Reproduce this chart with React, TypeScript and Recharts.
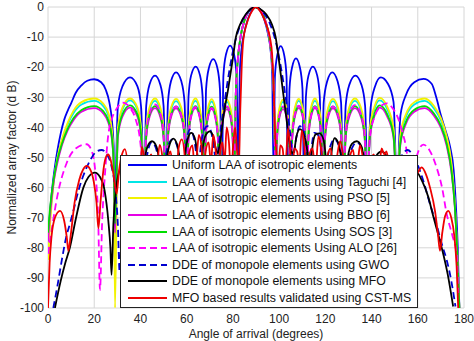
import { LineChart, Line, XAxis, YAxis, CartesianGrid, Legend } from "recharts";

const font = '"Liberation Sans", Arial, sans-serif';

const xTicks = [0, 20, 40, 60, 80, 100, 120, 140, 160, 180];
const yTicks = [0, -10, -20, -30, -40, -50, -60, -70, -80, -90, -100];

// [angle (deg), normalized AF (dB)]
const uniformLaa: [number, number][] = [
  [0, -77], [1, -67], [2, -59], [3, -53], [4, -48], [5.5, -42], [7, -37.5], [8.5, -34.5], [10, -32],
  [12, -28.5], [14.5, -26], [17, -24.5], [20, -24], [23, -25], [25, -27.5], [26.5, -31.5], [27.7, -38],
  [28.4, -46], [29, -62],
  [30.2, -33.4], [32.2, -26.4], [35.5, -23.4], [38.7, -26.4], [40.3, -33.4], [41.5, -60],
  [42.5, -32.8], [43.9, -25.8], [46.3, -22.8], [48.6, -25.8], [50, -32.8], [51, -60],
  [51.9, -31.7], [53.2, -24.7], [55.4, -21.7], [57.7, -24.7], [59.1, -31.7], [60, -60],
  [60.8, -29.8], [61.9, -22.8], [63.9, -19.8], [65.8, -22.8], [66.9, -29.8], [67.7, -60],
  [68.4, -27.3], [69.6, -20.3], [71.5, -17.3], [73.3, -20.3], [74.4, -27.3], [75.2, -60],
  [75.9, -22.8], [77, -15.8], [78.8, -12.8], [80.5, -15.8], [81.6, -22.8], [82.3, -55],
  [83, -22], [83.6, -15], [84.8, -9], [86.5, -4], [88.2, -1.2], [90, 0], [91.8, -1.2], [93.5, -4],
  [95.2, -9], [96.4, -15], [97, -22], [97.6, -55],
  [98.2, -23], [99.2, -16], [100.7, -13], [102.2, -16], [103.2, -23], [103.8, -60],
  [104.5, -27.1], [105.6, -20.1], [107.3, -17.1], [109, -20.1], [110.1, -27.1], [110.8, -60],
  [111.6, -29.8], [112.7, -22.8], [114.6, -19.8], [116.5, -22.8], [117.6, -29.8], [118.4, -60],
  [119.3, -31.7], [120.8, -24.7], [123, -21.7], [125.3, -24.7], [126.8, -31.7], [127.8, -60],
  [128.8, -32.8], [130.4, -25.8], [133, -22.8], [135.6, -25.8], [137.2, -32.8], [138.3, -60],
  [139.6, -33.4], [141.5, -26.4], [144, -23.4], [147, -25.4], [149.5, -31.5], [151, -60],
  [152.5, -36], [155, -29], [158.5, -25], [162.5, -23.9], [166, -25.5], [168, -30], [170, -36],
  [172, -41], [174, -46.5], [175.5, -54], [176.5, -66], [177.3, -80], [178, -100],
];

// shared angle grid of the four optimised isotropic LAA patterns
const groupDeg = [
  0, 1, 2.5, 4, 6, 8.5, 11, 14.5, 20, 24, 26, 27.5, 28.4, 29,
  30.2, 32.2, 35.5, 38.7, 40.3, 41.5,
  42.5, 43.9, 46.3, 48.6, 50, 51,
  51.9, 53.2, 55.4, 57.7, 59.1, 60,
  60.8, 61.9, 63.8, 65.6, 66.7, 67.5,
  68.2, 69.2, 70.8, 72.4, 73.5, 74.2,
  74.8, 75.8, 77.4, 79, 79.9, 80.5,
  81.3, 82.2, 83.3, 85, 87, 89.5, 92, 94, 95.7, 96.8, 97.7, 98.5,
  99.1, 100.1, 101.7, 103.3, 104.3, 105,
  105.7, 106.8, 108.5, 110.2, 111.3, 112,
  112.7, 113.8, 115.5, 117.2, 118.3, 119,
  119.9, 121.2, 123.3, 125.5, 126.9, 127.8,
  128.8, 130.3, 132.8, 135.4, 137, 138,
  139.3, 141.2, 143.5, 146.8, 149.5, 151,
  152.5, 155, 158.5, 163, 167, 170, 172.5, 174.5, 176, 177, 178,
];

const taguchiDb = [
  -80, -69, -57.5, -50.5, -44.5, -39, -35.3, -32.4, -31.2, -33, -35.8, -41, -51, -80,
  -41, -34, -31, -34, -41, -60,
  -41.2, -34.2, -31.2, -34.2, -41.2, -60,
  -41.3, -34.3, -31.3, -34.3, -41.3, -60,
  -41.2, -34.2, -31.2, -34.2, -41.2, -60,
  -41.4, -34.4, -31.4, -34.4, -41.4, -60,
  -41.5, -34.5, -31.5, -34.5, -41.5, -60,
  -28, -17, -10, -4.5, -1.2, 0, -1.2, -4.5, -10, -17, -28, -55,
  -41.5, -34.5, -31.5, -34.5, -41.5, -60,
  -41.2, -34.2, -31.2, -34.2, -41.2, -60,
  -41.2, -34.2, -31.2, -34.2, -41.2, -60,
  -41.3, -34.3, -31.3, -34.3, -41.3, -60,
  -41.2, -34.2, -31.2, -34.2, -41.2, -60,
  -41, -34, -31, -34, -41, -60,
  -43.2, -36.2, -32.4, -31.2, -33.7, -37.7, -43.7, -52.2, -65, -80, -100,
];

const psoDb = [
  -84, -71, -58, -50.5, -44, -38.5, -34.5, -31.6, -30.4, -32.2, -35, -40, -50, -100,
  -40.4, -33.4, -30.4, -33.4, -40.4, -60,
  -40.4, -33.4, -30.4, -33.4, -40.4, -60,
  -40.5, -33.5, -30.5, -33.5, -40.5, -60,
  -40.4, -33.4, -30.4, -33.4, -40.4, -60,
  -40.6, -33.6, -30.6, -33.6, -40.6, -60,
  -40.8, -33.8, -30.8, -33.8, -40.8, -60,
  -28, -17, -10, -4.5, -1.2, 0, -1.2, -4.5, -10, -17, -28, -55,
  -40.8, -33.8, -30.8, -33.8, -40.8, -60,
  -40.5, -33.5, -30.5, -33.5, -40.5, -60,
  -40.4, -33.4, -30.4, -33.4, -40.4, -60,
  -40.5, -33.5, -30.5, -33.5, -40.5, -60,
  -40.4, -33.4, -30.4, -33.4, -40.4, -60,
  -40.2, -33.2, -30.2, -33.2, -40.2, -60,
  -42.4, -35.4, -31.6, -30.4, -32.9, -36.9, -42.9, -51.4, -65, -80, -100,
];

const bboDb = [
  -78, -68, -58, -52, -46, -41, -37.6, -34.8, -33.6, -35.4, -38.2, -43, -52, -75,
  -43.4, -36.4, -33.4, -36.4, -43.4, -60,
  -43.6, -36.6, -33.6, -36.6, -43.6, -60,
  -43.7, -36.7, -33.7, -36.7, -43.7, -60,
  -43.6, -36.6, -33.6, -36.6, -43.6, -60,
  -43.8, -36.8, -33.8, -36.8, -43.8, -60,
  -43.9, -36.9, -33.9, -36.9, -43.9, -60,
  -28, -17, -10, -4.5, -1.2, 0, -1.2, -4.5, -10, -17, -28, -55,
  -43.9, -36.9, -33.9, -36.9, -43.9, -60,
  -43.6, -36.6, -33.6, -36.6, -43.6, -60,
  -43.6, -36.6, -33.6, -36.6, -43.6, -60,
  -43.7, -36.7, -33.7, -36.7, -43.7, -60,
  -43.6, -36.6, -33.6, -36.6, -43.6, -60,
  -43.4, -36.4, -33.4, -36.4, -43.4, -60,
  -45.6, -38.6, -34.8, -33.6, -36.1, -40.1, -46.1, -54.6, -66, -80, -100,
];

const sosDb = [
  -75, -66, -57, -51, -45.5, -40.5, -37, -34.2, -32.9, -34.7, -37.5, -42.5, -51.5, -72,
  -42.7, -35.7, -32.7, -35.7, -42.7, -60,
  -42.9, -35.9, -32.9, -35.9, -42.9, -60,
  -43, -36, -33, -36, -43, -60,
  -42.9, -35.9, -32.9, -35.9, -42.9, -60,
  -43.1, -36.1, -33.1, -36.1, -43.1, -60,
  -43.2, -36.2, -33.2, -36.2, -43.2, -60,
  -28, -17, -10, -4.5, -1.2, 0, -1.2, -4.5, -10, -17, -28, -55,
  -43.2, -36.2, -33.2, -36.2, -43.2, -60,
  -42.9, -35.9, -32.9, -35.9, -42.9, -60,
  -42.9, -35.9, -32.9, -35.9, -42.9, -60,
  -43, -36, -33, -36, -43, -60,
  -42.9, -35.9, -32.9, -35.9, -42.9, -60,
  -42.7, -35.7, -32.7, -35.7, -42.7, -60,
  -44.9, -37.9, -34.1, -32.9, -35.4, -39.4, -45.4, -53.9, -66, -80, -100,
];

const aloLaa: [number, number][] = [
  [0, -82], [1.6, -74], [4, -63], [8, -52], [12, -47], [16.7, -45.6], [19, -48], [20.5, -55],
  [21.7, -70], [22.5, -94], [23.4, -72], [24.7, -55], [26, -43], [27.5, -37.5], [29.5, -34],
  [32.5, -31.8], [35.5, -33.5], [38, -37.5], [39.8, -44], [40.8, -52], [41.5, -60],
  [42.5, -42.4], [43.9, -35.4], [46.3, -32.4], [48.6, -35.4], [50, -42.4], [51, -60],
  [51.9, -43], [53.2, -36], [55.4, -33], [57.7, -36], [59.1, -43], [60, -60],
  [60.8, -43.2], [61.9, -36.2], [63.8, -33.2], [65.6, -36.2], [66.7, -43.2], [67.5, -60],
  [68.2, -43.5], [69.2, -36.5], [70.8, -33.5], [72.4, -36.5], [73.5, -43.5], [74.2, -60],
  [74.8, -43], [75.8, -36], [77.4, -33], [79, -36], [79.9, -43], [80.5, -60],
  [81.3, -28], [82.2, -17], [83.3, -10], [85, -4.5], [87, -1.2], [89.5, 0], [92, -1.2], [94, -4.5],
  [95.7, -10], [96.8, -17], [97.7, -28], [98.5, -55],
  [99.1, -43], [100.1, -36], [101.7, -33], [103.3, -36], [104.3, -43], [105, -60],
  [105.7, -42.8], [106.8, -35.8], [108.5, -32.8], [110.2, -35.8], [111.3, -42.8], [112, -60],
  [112.7, -43.2], [113.8, -36.2], [115.5, -33.2], [117.2, -36.2], [118.3, -43.2], [119, -60],
  [119.9, -43], [121.2, -36], [123.3, -33], [125.5, -36], [126.9, -43], [127.8, -60],
  [128.8, -42.6], [130.3, -35.6], [132.8, -32.6], [135.4, -35.6], [137, -42.6], [138, -60],
  [139.3, -43], [141.5, -36], [144, -33], [146.5, -32], [149, -33.5], [151.5, -37], [153.5, -42],
  [155.2, -48], [156.5, -58], [157.5, -70],
  [158.5, -56], [160, -48.5], [162.4, -45.7], [165, -47.5], [168, -53], [170.5, -60],
  [172.5, -68.7], [175, -76], [176.8, -82], [177.5, -95],
];

const gwoDde: [number, number][] = [
  [2.3, -100], [4, -93], [6, -84], [8, -76], [9.5, -72], [11, -67.7], [13, -61.5], [15.3, -56],
  [18.2, -51], [21, -48], [23.2, -47.5], [25.5, -49], [27.5, -53], [29, -60], [30.2, -72], [31, -88],
  [32, -70], [33.5, -58], [35.5, -52], [37.5, -50], [39.5, -52.5], [41, -60], [42.3, -52],
  [43.5, -47], [44.9, -45], [46.5, -46.5], [48, -52], [49.3, -62], [50.5, -52], [52, -46], [54, -44],
  [55.8, -46], [57.2, -52], [58.3, -60], [59.3, -49], [60.3, -43], [61.4, -40.7], [62.8, -42.5],
  [64, -48], [65, -56], [66, -47], [67.3, -41.5], [69, -39.6], [70.6, -41.5], [71.8, -47],
  [72.8, -52], [73.8, -47], [74.5, -42], [76.5, -31], [78.5, -21], [80.8, -12], [83.5, -5.5],
  [86.5, -1.7], [89.7, 0], [93, -1.7], [96, -5.5], [98.7, -12], [101, -21], [103, -31],
  [104.8, -42], [106, -50], [107.3, -44], [109, -39.6], [110.7, -41.5], [112, -47], [113, -56],
  [114, -47], [115.3, -41.8], [116.8, -42.5], [118.3, -48], [119.6, -60], [121, -50],
  [122.5, -45.5], [124, -44], [125.8, -46], [127.4, -52], [128.6, -62], [130, -52], [131.8, -46.5],
  [133.6, -45], [135.5, -46.5], [137.2, -52], [138.5, -62], [140, -55], [142, -51], [144, -50],
  [146, -53], [147.8, -62], [149, -75], [150.2, -62], [152, -52], [153.8, -48.5], [155.6, -47.5],
  [157.7, -49], [160, -52.5], [162.5, -58], [165.3, -65.5], [168, -72], [170.5, -79],
  [172.5, -84], [174.5, -91], [176.3, -99.5],
];

const mfoDde: [number, number][] = [
  [3, -100], [5.5, -91], [7.5, -85], [9.5, -79.8], [12, -70.5], [15.3, -60], [17.5, -56.5],
  [20.3, -55], [22.5, -56.5], [24.5, -61], [26.1, -71], [27, -80], [27.5, -89], [28.3, -72],
  [29.5, -60], [31.5, -53], [34, -49.5], [36.5, -50], [38.5, -54], [40, -62], [41.5, -52],
  [43, -46.5], [45, -44.6], [47, -46.5], [48.7, -54], [50, -62], [51.3, -51], [52.7, -45.5],
  [54.2, -43.7], [55.8, -45.5], [57.2, -52], [58.2, -60], [59.3, -49], [60.6, -43.5], [62, -41.8],
  [63.5, -43.5], [64.8, -50], [65.8, -58], [66.8, -48], [68.3, -42.5], [70, -41.3], [71.5, -43],
  [72.6, -47], [73.5, -48.5], [74.5, -45], [76, -36], [78, -27], [80, -17], [81.3, -10], [83, -6],
  [85.5, -2.5], [87.5, -0.8], [89.8, 0], [92, -0.8], [94.5, -2.5], [97, -6], [98.5, -10],
  [99.8, -17], [101.5, -27], [103, -36], [104.5, -45], [105.5, -48.5], [106.4, -48], [107.5, -43],
  [109, -40.6], [110.7, -42.5], [112.2, -48], [113.2, -58], [114.2, -48], [115.8, -42.3],
  [117.5, -42], [119.2, -44], [120.5, -52], [121.5, -60], [122.6, -49], [124, -43.6], [125.5, -45],
  [127, -51], [128.2, -60], [129.7, -50], [131.5, -45.5], [133.6, -44.6], [135.7, -46.5],
  [137.3, -54], [138.5, -62], [140, -54], [142, -49.5], [144.4, -48], [146.8, -50], [148.7, -56],
  [150, -65], [151.5, -60], [154, -56.5], [156.5, -55], [159.5, -55], [162, -58], [164.5, -63],
  [166.7, -69.5], [169, -76], [171, -82], [173, -89], [175.3, -99.5],
];

const cstMs: [number, number][] = [
  [0, -100], [0.7, -85], [1.5, -76.5], [3, -70], [5.2, -67.7], [7, -71], [8.2, -77], [8.8, -81],
  [9.8, -76], [11.5, -65], [13.5, -57.5], [15.2, -54], [16.7, -52.8], [18.3, -54], [19.8, -58],
  [21, -65], [21.8, -73.6], [22.7, -65], [24, -54], [25, -50], [26, -49], [27, -50.5], [28.2, -55],
  [29.7, -62], [30.8, -54], [32, -49], [33.3, -47.2], [34.5, -52], [35.5, -60], [36.7, -52],
  [37.8, -49.5], [39, -55], [39.8, -58], [40.6, -46.5], [41.5, -50], [42.5, -62], [43.5, -52],
  [44.7, -49], [46, -57], [47, -55], [48.3, -45.8], [49.5, -50], [50.5, -62], [51.8, -51], [53, -48],
  [54.3, -56], [55.3, -58], [56.5, -47], [57.9, -44], [59.2, -50], [60, -60], [61.2, -48],
  [62.5, -46], [63.5, -54], [64.3, -50], [65.3, -42.5], [66.5, -47], [67.3, -58], [68.2, -48],
  [69.5, -45], [70.5, -52], [71.5, -42.5], [72.6, -48], [73.5, -58], [74.5, -48], [75.5, -45],
  [76.4, -52], [77.3, -40], [78.3, -45], [79.2, -56], [80.2, -45], [81, -40], [81.8, -48],
  [82.5, -55], [83.2, -34], [83.8, -20], [84.5, -11], [85.8, -6], [87.8, -2], [90, 0], [92.3, -2],
  [94.5, -6], [96, -10], [97, -16], [97.7, -28], [98.2, -41], [98.8, -48], [99.6, -56],
  [100.5, -46], [101.5, -47], [102.5, -55], [103.2, -48], [103.8, -40.5], [104.7, -46],
  [105.6, -58], [106.6, -47], [107.8, -48], [108.7, -53], [109.8, -41], [110.9, -46], [112, -58],
  [113.1, -49], [114.5, -47], [115.7, -55], [117, -43], [118.3, -48], [119.5, -60], [120.8, -50],
  [122.3, -47], [123.7, -56], [125, -50], [126.4, -44.6], [127.8, -50], [129.2, -60], [130.5, -50],
  [132, -47.5], [133.2, -55], [134, -52], [135, -46], [136.4, -51], [138, -62], [139.5, -52],
  [141, -49], [142.5, -56], [143.5, -52], [144.4, -47], [145.5, -49], [146.5, -48], [148, -56],
  [150, -62], [151.5, -55], [153.5, -50], [155, -52], [156.5, -60], [158, -58], [160, -55],
  [161.7, -53.3], [163.5, -55.5], [165.3, -60], [167.5, -68], [168.8, -76], [169.6, -81],
  [170.6, -75], [171.8, -69.5], [173.2, -67.7], [174.5, -70], [175.8, -76], [176.8, -86],
  [177.5, -100],
];

const fromPairs = (list: [number, number][]) => list.map(([deg, db]) => ({ deg, db }));
const fromGroup = (values: number[]) => groupDeg.map((deg, i) => ({ deg, db: values[i] }));

const series = [
  { name: "Uniform LAA of isotropic elements", color: "#0000f0", data: fromPairs(uniformLaa) },
  { name: "LAA of isotropic elements using Taguchi [4]", color: "#00e6e6", data: fromGroup(taguchiDb) },
  { name: "LAA of isotropic elements using PSO [5]", color: "#f2f200", data: fromGroup(psoDb) },
  { name: "LAA of isotropic elements using BBO [6]", color: "#e600e6", data: fromGroup(bboDb) },
  { name: "LAA of isotropic elements Using SOS [3]", color: "#00dd00", data: fromGroup(sosDb) },
  { name: "LAA of isotropic elements Using ALO [26]", color: "#ff00ff", dash: "7 4", data: fromPairs(aloLaa) },
  { name: "DDE of monopole elements using GWO", color: "#0000d0", dash: "7 4", data: fromPairs(gwoDde) },
  { name: "DDE of monopole elements using MFO", color: "#000000", data: fromPairs(mfoDde) },
  { name: "MFO based results validated using CST-MS", color: "#ee0000", data: fromPairs(cstMs) },
];

const renderLegend = () => (
  <div
    style={{
      boxSizing: "border-box",
      width: 298,
      background: "#fff",
      border: "1px solid #222",
      padding: "1px 0",
      fontFamily: font,
      fontSize: 12.3,
      color: "#111",
    }}
  >
    {series.map((s) => (
      <div key={s.name} style={{ height: 16.6, display: "flex", alignItems: "center" }}>
        <svg width={47} height={10} style={{ flex: "none" }}>
          <line x1={7} x2={46} y1={5} y2={5} stroke={s.color} strokeWidth={2} strokeDasharray={s.dash} />
        </svg>
        <span style={{ marginLeft: 4, whiteSpace: "nowrap" }}>{s.name}</span>
      </div>
    ))}
  </div>
);

export default function App() {
  return (
    <div style={{ position: "absolute", left: 0, top: 0, width: 474, height: 341, background: "#fff" }}>
      <LineChart width={474} height={341} margin={{ top: 7, right: 10, bottom: 0, left: 0 }} style={{ fontFamily: font }}>
        <CartesianGrid stroke="#d6d6d6" strokeWidth={1} />
        <XAxis
          dataKey="deg"
          type="number"
          domain={[0, 180]}
          ticks={xTicks}
          interval={0}
          allowDataOverflow
          height={33}
          axisLine={false}
          tickLine={false}
          tickSize={0}
          tickMargin={6}
          tick={{ fontSize: 12, fill: "#222", fontFamily: font }}
          label={{ value: "Angle of arrival (degrees)", position: "insideBottom", offset: 3, fontSize: 12, fill: "#222", fontFamily: font }}
        />
        <YAxis
          type="number"
          domain={[-100, 0]}
          ticks={yTicks}
          interval={0}
          allowDataOverflow
          width={48}
          axisLine={false}
          tickLine={false}
          tickSize={0}
          tickMargin={4}
          tick={{ fontSize: 12, fill: "#222", fontFamily: font }}
          label={{
            value: "Normalized array factor (d B)",
            angle: -90,
            position: "insideLeft",
            offset: 12,
            fontSize: 12,
            fill: "#222",
            fontFamily: font,
            style: { textAnchor: "middle" },
          }}
        />
        {series.map((s) => (
          <Line
            key={s.name}
            data={s.data}
            dataKey="db"
            type="monotone"
            stroke={s.color}
            strokeWidth={1.8}
            strokeDasharray={s.dash}
            dot={false}
            activeDot={false}
            isAnimationActive={false}
          />
        ))}
        <Legend
          layout="vertical"
          align="center"
          verticalAlign="middle"
          content={renderLegend}
          wrapperStyle={{ left: 120, top: 155, width: 298 }}
        />
      </LineChart>
    </div>
  );
}
